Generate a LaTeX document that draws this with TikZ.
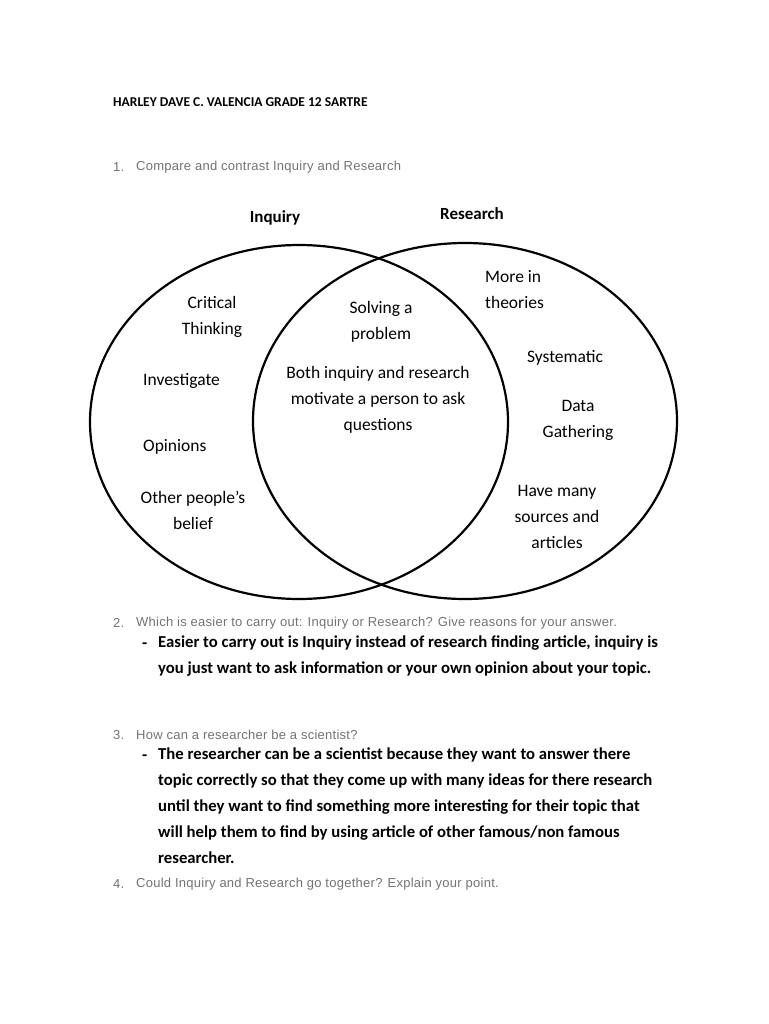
\documentclass[tikz,border=0pt]{standalone}
\usepackage{fontspec}
\setmainfont{Carlito}
\newfontfamily\questionfont{Liberation Sans}[LetterSpace=2]
\colorlet{QuestionGray}{black!55}
\usetikzlibrary{positioning}

\tikzset{
  venntext/.style = {font=\fontsize{17.5}{26}\selectfont, align=center, inner sep=0pt},
  venntitle/.style = {font=\fontsize{17}{26}\selectfont\bfseries, inner sep=0pt},
  question/.style = {font=\questionfont\fontsize{13}{15}\selectfont, text=QuestionGray, inner sep=0pt, anchor=west},
  answer/.style = {font=\fontsize{16.7}{25.8}\selectfont\bfseries, align=left, inner sep=0pt, anchor=north west},
  vennline/.style = {line width=2.2pt},
}

\begin{document}
\begin{tikzpicture}[x=1pt, y=-1pt]
\useasboundingbox[fill=white] (0,0) rectangle (768,1024);

% header and first question
\node[anchor=west, inner sep=0pt, font=\fontsize{13.5}{16}\selectfont\bfseries] (name) at (113,102)
    {HARLEY DAVE C. VALENCIA GRADE 12 SARTRE};
\node[question] (num1) at (113,167) {1.};
\node[question] (q1) at (136,167) {Compare and contrast Inquiry and Research};

% the two sets
\coordinate (I) at (299,422);
\coordinate (R) at (465,421);
\draw[vennline] (I) ellipse [x radius=209, y radius=177];
\draw[vennline] (R) ellipse [x radius=212, y radius=178];

\node[venntitle] (inquiry) at (275,218) {Inquiry};
\node[venntitle] (research) at (472,214) {Research};

% inquiry only
\node[venntext] (critical) at (212,317) {Critical\\Thinking};
\node[venntext, anchor=west] (investigate) at (143,381) {Investigate};
\node[venntext, anchor=west] (opinions) at (143,447) {Opinions};
\node[venntext] (belief) at (193,510) {Other people's\\belief};

% both
\node[venntext] (solving) at (381,322) {Solving a\\problem};
\node[venntext] (both) at (378,400) {Both inquiry and research\\motivate a person to ask\\questions};

% research only
\node[venntext, align=left, anchor=west] (theories) at (485,289.5) {More in\\theories};
\node[venntext] (systematic) at (565,358) {Systematic};
\node[venntext] (gathering) at (578,420.5) {Data\\Gathering};
\node[venntext] (sources) at (557,517) {Have many\\sources and\\articles};

% questions and answers
\node[question] (num2) at (113,623) {2.};
\node[question] (q2) at (136,623) {Which is easier to carry out: Inquiry or Research? Give reasons for your answer.};
\node[answer, anchor=west] (dash2) at (142,646) {-};
\node[answer] (a2) at (158,636)
    {Easier to carry out is Inquiry instead of research finding article, inquiry is\\
     you just want to ask information or your own opinion about your topic.};

\node[question] (num3) at (113,735) {3.};
\node[question] (q3) at (136,735) {How can a researcher be a scientist?};
\node[answer, anchor=west] (dash3) at (142,758) {-};
\node[answer] (a3) at (158,748)
    {The researcher can be a scientist because they want to answer there\\
     topic correctly so that they come up with many ideas for there research\\
     until they want to find something more interesting for their topic that\\
     will help them to find by using article of other famous/non famous\\
     researcher.};

\node[question] (num4) at (113,884) {4.};
\node[question] (q4) at (136,884) {Could Inquiry and Research go together? Explain your point.};

\end{tikzpicture}
\end{document}
